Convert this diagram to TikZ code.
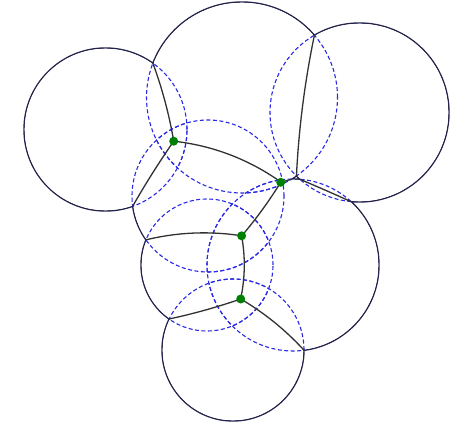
\documentclass[tikz,border=0pt]{standalone}
\usetikzlibrary{calc}
\definecolor{navyc}{RGB}{35,35,75}
\definecolor{dashblue}{RGB}{40,40,230}
\definecolor{edgec}{RGB}{50,50,50}
\definecolor{dotgreen}{RGB}{0,128,0}
\newcommand\dashin[2]{\begin{scope}\clip #2;\draw[dashc] #1;\end{scope}}
\newcommand\apo[3]{\draw[edge] let \p1=($(#2)-(#1)$), \p2=($(#3)-(#1)$) in (#2) arc[start angle={atan2(\y1,\x1)}, end angle={atan2(\y2,\x2)}, radius={veclen(\x1,\y1)}];}
\begin{document}
\begin{tikzpicture}[x=1pt,y=1pt,
  solidc/.style={draw=navyc, line width=1.4pt},
  dashc/.style={draw=dashblue, line width=1.1pt, dash pattern=on 4pt off 2.5pt},
  edge/.style={draw=edgec, line width=1.3pt},
  dot/.style={circle, fill=dotgreen, inner sep=0pt, minimum size=9pt}]
\useasboundingbox (0,0) rectangle (474,439);
\def\cL{(105.5,309.5) circle[radius=81.5]}
\def\cT{(242,341.5) circle[radius=95.5]}
\def\cR{(359.5,326.5) circle[radius=89.5]}
\def\cM{(293,174) circle[radius=86]}
\def\cB{(233,89) circle[radius=71]}
\def\cN{(207,174) circle[radius=66]}
\def\cC{(208,243) circle[radius=76]}
% full circles, then the inside of the union is whitened
\draw[solidc] \cL \cT \cR \cM \cB \cN \cC;
\fill[white] (105.5,309.5) circle[radius=80.7]
             (242,341.5) circle[radius=94.7]
             (359.5,326.5) circle[radius=88.7]
             (293,174) circle[radius=85.2]
             (233,89) circle[radius=70.2]
             (207,174) circle[radius=65.2]
             (208,243) circle[radius=75.2];
% dashed interior arcs
\dashin\cL\cT \dashin\cT\cL
\dashin\cL\cC \dashin\cC\cL
\dashin\cT\cR \dashin\cR\cT
\dashin\cT\cM \dashin\cM\cT
\dashin\cT\cC \dashin\cC\cT
\dashin\cR\cM \dashin\cM\cR
\dashin\cM\cB \dashin\cB\cM
\dashin\cM\cN \dashin\cN\cM
\dashin\cM\cC \dashin\cC\cM
\dashin\cB\cN \dashin\cN\cB
\dashin\cN\cC \dashin\cC\cN
% points
\coordinate (A) at (152.9,375.8);
\coordinate (B) at (314.4,403.8);
\coordinate (X) at (296.4,263.0);
\coordinate (C) at (351.1,237.4);
\coordinate (D) at (304.0,88.7);
\coordinate (E) at (169.1,120.0);
\coordinate (F) at (146.0,199.1);
\coordinate (G) at (132.7,232.7);
\coordinate (H1) at (291.8,260.0);
\coordinate (H2) at (299.9,259.7);
\coordinate (V1) at (173.7,297.8);
\coordinate (V2) at (280.7,256.7);
\coordinate (V3) at (241.6,203.2);
\coordinate (V4) at (240.7,140.0);
% centres of the bisector circles
\coordinate (OLT) at (-260.4,223.7);
\coordinate (OLC) at (891.4,-200.4);
\coordinate (OTC) at (149.3,72.9);
\coordinate (OTM) at (511.8,-544.4);
\coordinate (OTR) at (1207.4,218.3);
\coordinate (ORM) at (-507.6,-1662.0);
\coordinate (OCM) at (-95.05,488.99);
\coordinate (OCN) at (203.9,-37.7);
\coordinate (OMN) at (83.77,174);
\coordinate (ONB) at (41.65,714.5);
\coordinate (OMB) at (104.6,-92.9);
% edges
\apo{OLT}{A}{V1}
\apo{OLC}{V1}{G}
\apo{OTC}{V1}{V2}
\apo{OTM}{V2}{H1}
\apo{OTR}{B}{X}
\apo{ORM}{H2}{C}
\apo{OCM}{V2}{V3}
\apo{OCN}{V3}{F}
\apo{OMN}{V3}{V4}
\apo{ONB}{V4}{E}
\apo{OMB}{V4}{D}
% vertices
\node[dot] (d1) at (V1) {};
\node[dot] (d2) at (V2) {};
\node[dot] (d3) at (V3) {};
\node[dot] (d4) at (V4) {};
\end{tikzpicture}
\end{document}
